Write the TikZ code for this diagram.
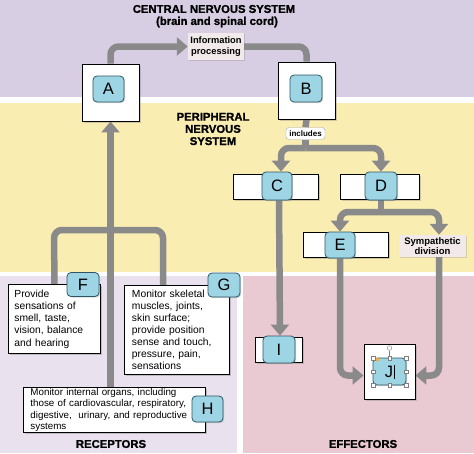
\documentclass[tikz,border=0pt]{standalone}
\usepackage{fontspec}
\setmainfont{Liberation Sans}
\newfontfamily\heavyfont[FakeBold=1.2]{Liberation Sans Bold}
\usetikzlibrary{arrows.meta,shadows}
\definecolor{cnsbg}{RGB}{216,206,228}
\definecolor{pnsbg}{RGB}{250,237,178}
\definecolor{recbg}{RGB}{233,226,238}
\definecolor{effbg}{RGB}{233,202,210}
\definecolor{lblue}{RGB}{158,213,228}
\definecolor{lborder}{RGB}{45,85,100}
\definecolor{conngray}{RGB}{138,138,138}
\definecolor{tagfill}{RGB}{242,234,234}
\definecolor{handleorange}{RGB}{240,170,60}
\pgfdeclarelayer{bg}\pgfdeclarelayer{lines}\pgfsetlayers{bg,lines,main}
\tikzset{
  whitebox/.style={draw=black, line width=0.9pt, fill=white, inner sep=0pt,
    drop shadow={shadow xshift=1.5pt, shadow yshift=-1.5pt, opacity=.35}},
  tag/.style={draw=lborder, line width=0.8pt, fill=lblue, rounded corners=4pt, inner sep=0pt,
    font=\fontsize{16.5}{16.5}\selectfont,
    drop shadow={shadow xshift=1.2pt, shadow yshift=-1.2pt, opacity=.3}},
  conn/.style={draw=conngray, line width=6.5pt, rounded corners=8pt},
  arr/.style={-{Triangle[width=18pt,length=11pt]}},
  textbox/.style={draw=black, line width=0.9pt, fill=white, align=left, anchor=north west,
    inner ysep=1pt, drop shadow={shadow xshift=2pt, shadow yshift=-2pt, opacity=.4}},
  heading/.style={font=\heavyfont\fontsize{11.3}{12.2}\selectfont, align=center, inner sep=0pt},
  infotag/.style={fill=tagfill, inner sep=0pt, align=center,
    drop shadow={shadow xshift=1.2pt, shadow yshift=-1.2pt, opacity=.3}},
  handle/.style={draw=black!50, fill=white, line width=0.4pt}
}
\begin{document}
\begin{tikzpicture}[x=1pt,y=-1pt]
\useasboundingbox (0,0) rectangle (474,453);
\begin{pgfonlayer}{bg}
  \fill[white] (0,0) rectangle (474,453);
  \fill[cnsbg] (0,0) rectangle (474,97);
  \fill[pnsbg] (0,103) rectangle (474,272);
  \fill[recbg] (0,276) rectangle (237,453);
  \fill[effbg] (243,276) rectangle (474,453);
\end{pgfonlayer}

% headings
\node[heading] (cnst) at (214,9) {CENTRAL NERVOUS SYSTEM};
\node[heading] (cnss) at (217,22) {(brain and spinal cord)};
\node[heading] (pns) at (213,129) {PERIPHERAL\\NERVOUS\\SYSTEM};
\node[heading] (rec) at (111,444) {RECEPTORS};
\node[heading] (eff) at (363,444) {EFFECTORS};

% CNS boxes
\node[whitebox, minimum width=57pt, minimum height=57pt] (boxA) at (110.5,92.5) {};
\node[tag, minimum width=31pt, minimum height=26pt] (labelA) at (108.5,89) {A};
\node[whitebox, minimum width=57pt, minimum height=57pt] (boxB) at (306.5,90.5) {};
\node[tag, minimum width=32pt, minimum height=27pt] (labelB) at (306,88.5) {B};
\node[infotag, minimum width=56pt, minimum height=27pt, font=\bfseries\fontsize{9.3}{11.5}\selectfont] (info) at (216,46.5) {Information\\processing};

% PNS
\node[draw=black!35, fill=white, rounded corners=3pt, inner sep=0pt, minimum width=39pt, minimum height=12pt,
  font=\bfseries\fontsize{8}{9}\selectfont] (incl) at (305.5,133.5) {includes};
\node[whitebox, minimum width=85pt, minimum height=25pt] (boxC) at (275.5,186.5) {};
\node[tag, minimum width=30pt, minimum height=28pt] (labelC) at (277,186) {C};
\node[whitebox, minimum width=79pt, minimum height=25pt] (boxD) at (379.5,186.5) {};
\node[tag, minimum width=32pt, minimum height=28pt] (labelD) at (381,186) {D};
\node[whitebox, minimum width=85pt, minimum height=25pt] (boxE) at (345.5,244.5) {};
\node[tag, minimum width=30pt, minimum height=26pt] (labelE) at (340,245) {E};
\node[infotag, minimum width=67pt, minimum height=22pt, font=\bfseries\fontsize{9.5}{10.8}\selectfont] (symp) at (432.5,246) {Sympathetic\\division};

% effectors
\node[whitebox, minimum width=47pt, minimum height=25pt] (boxI) at (278.5,349.5) {};
\node[tag, minimum width=32pt, minimum height=27pt] (labelI) at (279,349.5) {I};
\node[whitebox, minimum width=51pt, minimum height=55pt] (boxJ) at (389.5,371.5) {};
\node[tag, minimum width=33pt, minimum height=27pt] (labelJ) at (389.5,371.5) {J\hspace{0.6pt}\rule[-1.5pt]{0.5pt}{14pt}};
% selection handles on J
\draw[black!50, line width=0.4pt] (389.5,350.5) -- (389.5,358);
\draw[handle] (389.5,348) circle (2.3pt);
\foreach \hx/\hy in {373/358,389.5/358,406/358,373/371.5,406/371.5,373/385,389.5/385,406/385}
  \draw[handle] (\hx-1.8,\hy-1.8) rectangle (\hx+1.8,\hy+1.8);
\fill[handleorange] (375.5,357.5) rectangle (378.5,360.5);

% receptors
\node[textbox, text width=80pt, inner xsep=6pt, minimum height=69pt,
  font=\fontsize{10.3}{12.3}\selectfont] (boxF) at (8,284)
  {Provide\\sensations of\\smell, taste,\\vision, balance\\and hearing};
\node[tag, minimum width=32pt, minimum height=24pt] (labelF) at (83,284.5) {F};
\node[textbox, text width=90pt, inner xsep=7.5pt, minimum height=89pt,
  font=\fontsize{10.3}{12}\selectfont] (boxG) at (124,285)
  {Monitor skeletal\\muscles, joints,\\skin surface;\\provide position\\sense and touch,\\pressure, pain,\\sensations};
\node[tag, minimum width=32pt, minimum height=24pt] (labelG) at (224,285) {G};
\node[textbox, text width=168pt, inner xsep=7pt, minimum height=43pt,
  font=\fontsize{9.8}{11.3}\selectfont] (boxH) at (23,387)
  {Monitor internal organs, including\\those of cardiovascular, respiratory,\\digestive,\ \ urinary, and reproductive\\systems};
\node[tag, minimum width=31pt, minimum height=26pt] (labelH) at (207.5,409) {H};

% connectors
\coordinate (splitB) at (305.5,148);
\coordinate (splitD) at (381,212);
\coordinate (barL) at (54,230);
\coordinate (barR) at (163,230);
\begin{pgfonlayer}{lines}
  \draw[conn,arr] (boxA.north) |- (info.west);
  \draw[conn] (info.east) -| (boxB.north);
  \draw[conn] (boxB.south) -- (incl.north);
  \draw[conn] (incl.south) -- (splitB);
  \draw[conn,arr] (splitB) -| ([xshift=4pt]labelC.north);
  \draw[conn,arr] (splitB) -| (labelD.north);
  \draw[conn] (labelD.south) -- (splitD);
  \draw[conn,arr] (splitD) -| (labelE.north);
  \draw[conn,arr] (splitD) -| ([xshift=6.5pt]symp.north);
  \draw[conn,arr] ([xshift=2pt]labelC.south) -- ([xshift=1pt]labelI.north);
  \draw[conn,arr] (labelE.south) |- ([yshift=-4pt]boxJ.west);
  \draw[conn,arr] ([xshift=6.5pt]symp.south) |- ([yshift=-4pt]boxJ.east);
  \draw[conn,arr] (boxH.north -| boxA.south) -- (boxA.south);
  \draw[conn] (boxF.north) -- (barL) -- (barR) -- (barR |- boxG.north);
\end{pgfonlayer}
\end{tikzpicture}
\end{document}
